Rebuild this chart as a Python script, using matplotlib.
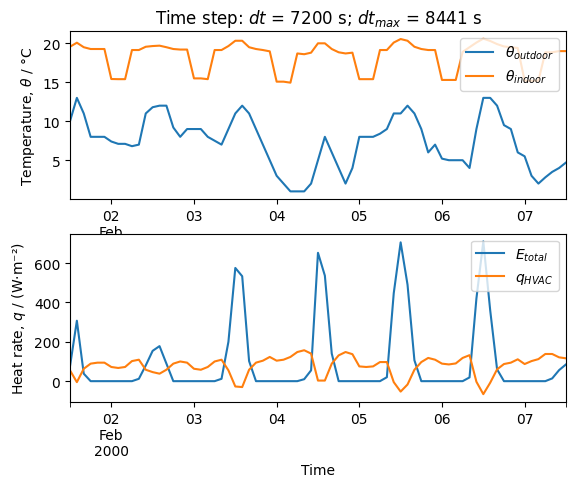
import matplotlib
matplotlib.use('Agg')
import matplotlib.pyplot as plt
import matplotlib.dates as mdates
import pandas as pd

# 2-hourly samples, 2000-02-01 12:00 .. 2000-02-07 12:00
times = pd.date_range('2000-02-01 12:00', '2000-02-07 12:00', freq='2h')

theta_outdoor = [10, 13, 11, 8, 8, 8, 7.4, 7.1, 7.1, 6.8, 7, 11, 11.8, 12, 12, 9.2, 8, 9, 9, 9,
                 8, 7.5, 7, 9, 11, 12, 11, 9, 7, 5, 3, 2, 1, 1, 1, 2, 5, 8, 6, 4,
                 2, 4, 8, 8, 8, 8.4, 9, 11, 11, 12, 11, 9, 6, 7, 5.2, 5, 5, 5, 4, 9,
                 13, 13, 12, 9.5, 9, 6, 5.5, 3, 2, 2.8, 3.5, 4, 4.7]
theta_indoor = [19.56, 20.08, 19.5, 19.27, 19.27, 19.27, 15.42, 15.4, 15.4, 19.14, 19.14, 19.56,
                19.65, 19.7, 19.5, 19.27, 19.2, 19.2, 15.5, 15.5, 15.4, 19.14, 19.14, 19.65,
                20.33, 20.33, 19.5, 19.27, 19.14, 18.97, 15.08, 15.08, 14.95, 18.7, 18.6, 18.8,
                20, 20, 19.27, 18.85, 18.7, 18.8, 15.4, 15.4, 15.4, 19.14, 19.14, 20.1,
                20.55, 20.33, 19.56, 19.27, 19.14, 19.14, 15.3, 15.3, 15.3, 18.9, 19.5, 20.1,
                20.6, 20.3, 19.9, 19.6, 19.5, 19.4, 15.2, 15.2, 15.2, 18.85, 18.85, 19.0, 19.0]
e_total = [75, 307, 38, 0, 0, 0, 0, 0, 0, 0, 12, 80, 154, 178, 89, 0, 0, 0, 0, 0,
           0, 0, 12, 200, 575, 533, 102, 0, 0, 0, 0, 0, 0, 0, 10, 55, 652, 536, 140, 0,
           0, 0, 0, 0, 0, 0, 20, 447, 705, 490, 106, 0, 0, 0, 0, 0, 0, 0, 19, 420,
           710, 360, 60, 0, 0, 0, 0, 0, 0, 0, 14, 56, 85]
q_hvac = [55, -5, 63, 89, 94, 94, 72, 67, 72, 102, 109, 58, 46, 38, 58, 89, 100, 94, 63, 58,
          72, 100, 109, 55, -27, -30, 58, 94, 104, 123, 104, 109, 123, 148, 157, 140, 3, 3, 89, 131,
          148, 137, 75, 72, 75, 97, 97, -5, -53, -17, 58, 97, 118, 109, 89, 85, 90, 118, 132, -3,
          -66, -8, 60, 87, 94, 111, 87, 102, 112, 138, 138, 121, 116]

day_ticks = pd.date_range('2000-02-02', '2000-02-07', freq='D')
top_labels = ['02\nFeb'] + [d.strftime('%d') for d in day_ticks[1:]]
bottom_labels = ['02\nFeb\n2000'] + [d.strftime('%d') for d in day_ticks[1:]]

fig = plt.figure(figsize=(5.75, 4.85), dpi=100)
ax1 = fig.add_axes([0.1217, 0.5876, 0.8626, 0.3464])
ax2 = fig.add_axes([0.1217, 0.1695, 0.8626, 0.3465])

ax1.plot(times, theta_outdoor, label=r'$\theta_{outdoor}$')
ax1.plot(times, theta_indoor, label=r'$\theta_{indoor}$')
ax1.set_ylabel(r'Temperature, $\theta$ / °C')
ax1.set_title(r'Time step: $dt$ = 7200 s; $dt_{max}$ = 8441 s')
ax1.set_yticks([5, 10, 15, 20])
ax1.legend(loc='upper right')

ax2.plot(times, e_total, label=r'$E_{total}$')
ax2.plot(times, q_hvac, label=r'$q_{HVAC}$')
ax2.set_ylabel('Heat rate, $q$ / (W·m⁻²)')
ax2.set_xlabel('Time')
ax2.set_yticks([0, 200, 400, 600])
ax2.legend(loc='upper right')

for ax, labels in ((ax1, top_labels), (ax2, bottom_labels)):
    ax.set_xlim(times[0], times[-1])
    ax.set_xticks(day_ticks)
    ax.set_xticklabels(labels)

# edge ticks on the lower axis
ax2.set_xticks([times[0], times[-1]], minor=True)
ax2.tick_params(axis='x', which='minor', length=3.5)

fig.savefig('out.png', dpi=100)
